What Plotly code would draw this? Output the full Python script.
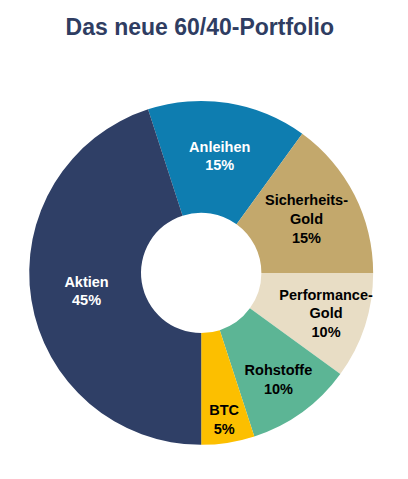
import plotly.graph_objects as go

labels = ["Anleihen", "Sicherheits-Gold", "Performance-Gold", "Rohstoffe", "BTC", "Aktien"]
values = [15, 15, 10, 10, 5, 45]
texts = ["<b>Anleihen<br>15%</b>", "<b>Sicherheits-<br>Gold<br>15%</b>", "<b>Performance-<br>Gold<br>10%</b>",
         "<b>Rohstoffe<br>10%</b>", "<b>BTC<br>5%</b>", "<b>Aktien<br>45%</b>"]
colors = ["#0e7db0", "#c3a86c", "#e8ddc5", "#5cb595", "#fcbf00", "#2f3f66"]
text_colors = ["white", "black", "black", "black", "black", "white"]

fig = go.Figure()

fig.add_trace(go.Pie(
    labels=labels, values=values, text=texts,
    textinfo="text", textposition="inside",
    insidetextorientation="horizontal",
    sort=False, direction="clockwise", rotation=-18,
    hole=0.35,
    marker=dict(colors=colors, line=dict(width=0)),
    insidetextfont=dict(family="Liberation Sans, Arial", size=14.5, color=text_colors),
    domain=dict(x=[0.052, 0.895], y=[0.088, 0.806]),
    showlegend=False,
))

fig.update_layout(
    width=408, height=479,
    margin=dict(l=0, r=0, t=0, b=0),
    title=dict(text="<b>Das neue 60/40-Portfolio</b>", x=0.47, xanchor="center",
               y=0.96, yanchor="middle",
               font=dict(family="Liberation Sans, Arial", size=23, color="#2f3d62")),
    paper_bgcolor="white",
    plot_bgcolor="white",
    uniformtext=dict(minsize=14, mode="show"),
)

fig.write_html("out.html")
